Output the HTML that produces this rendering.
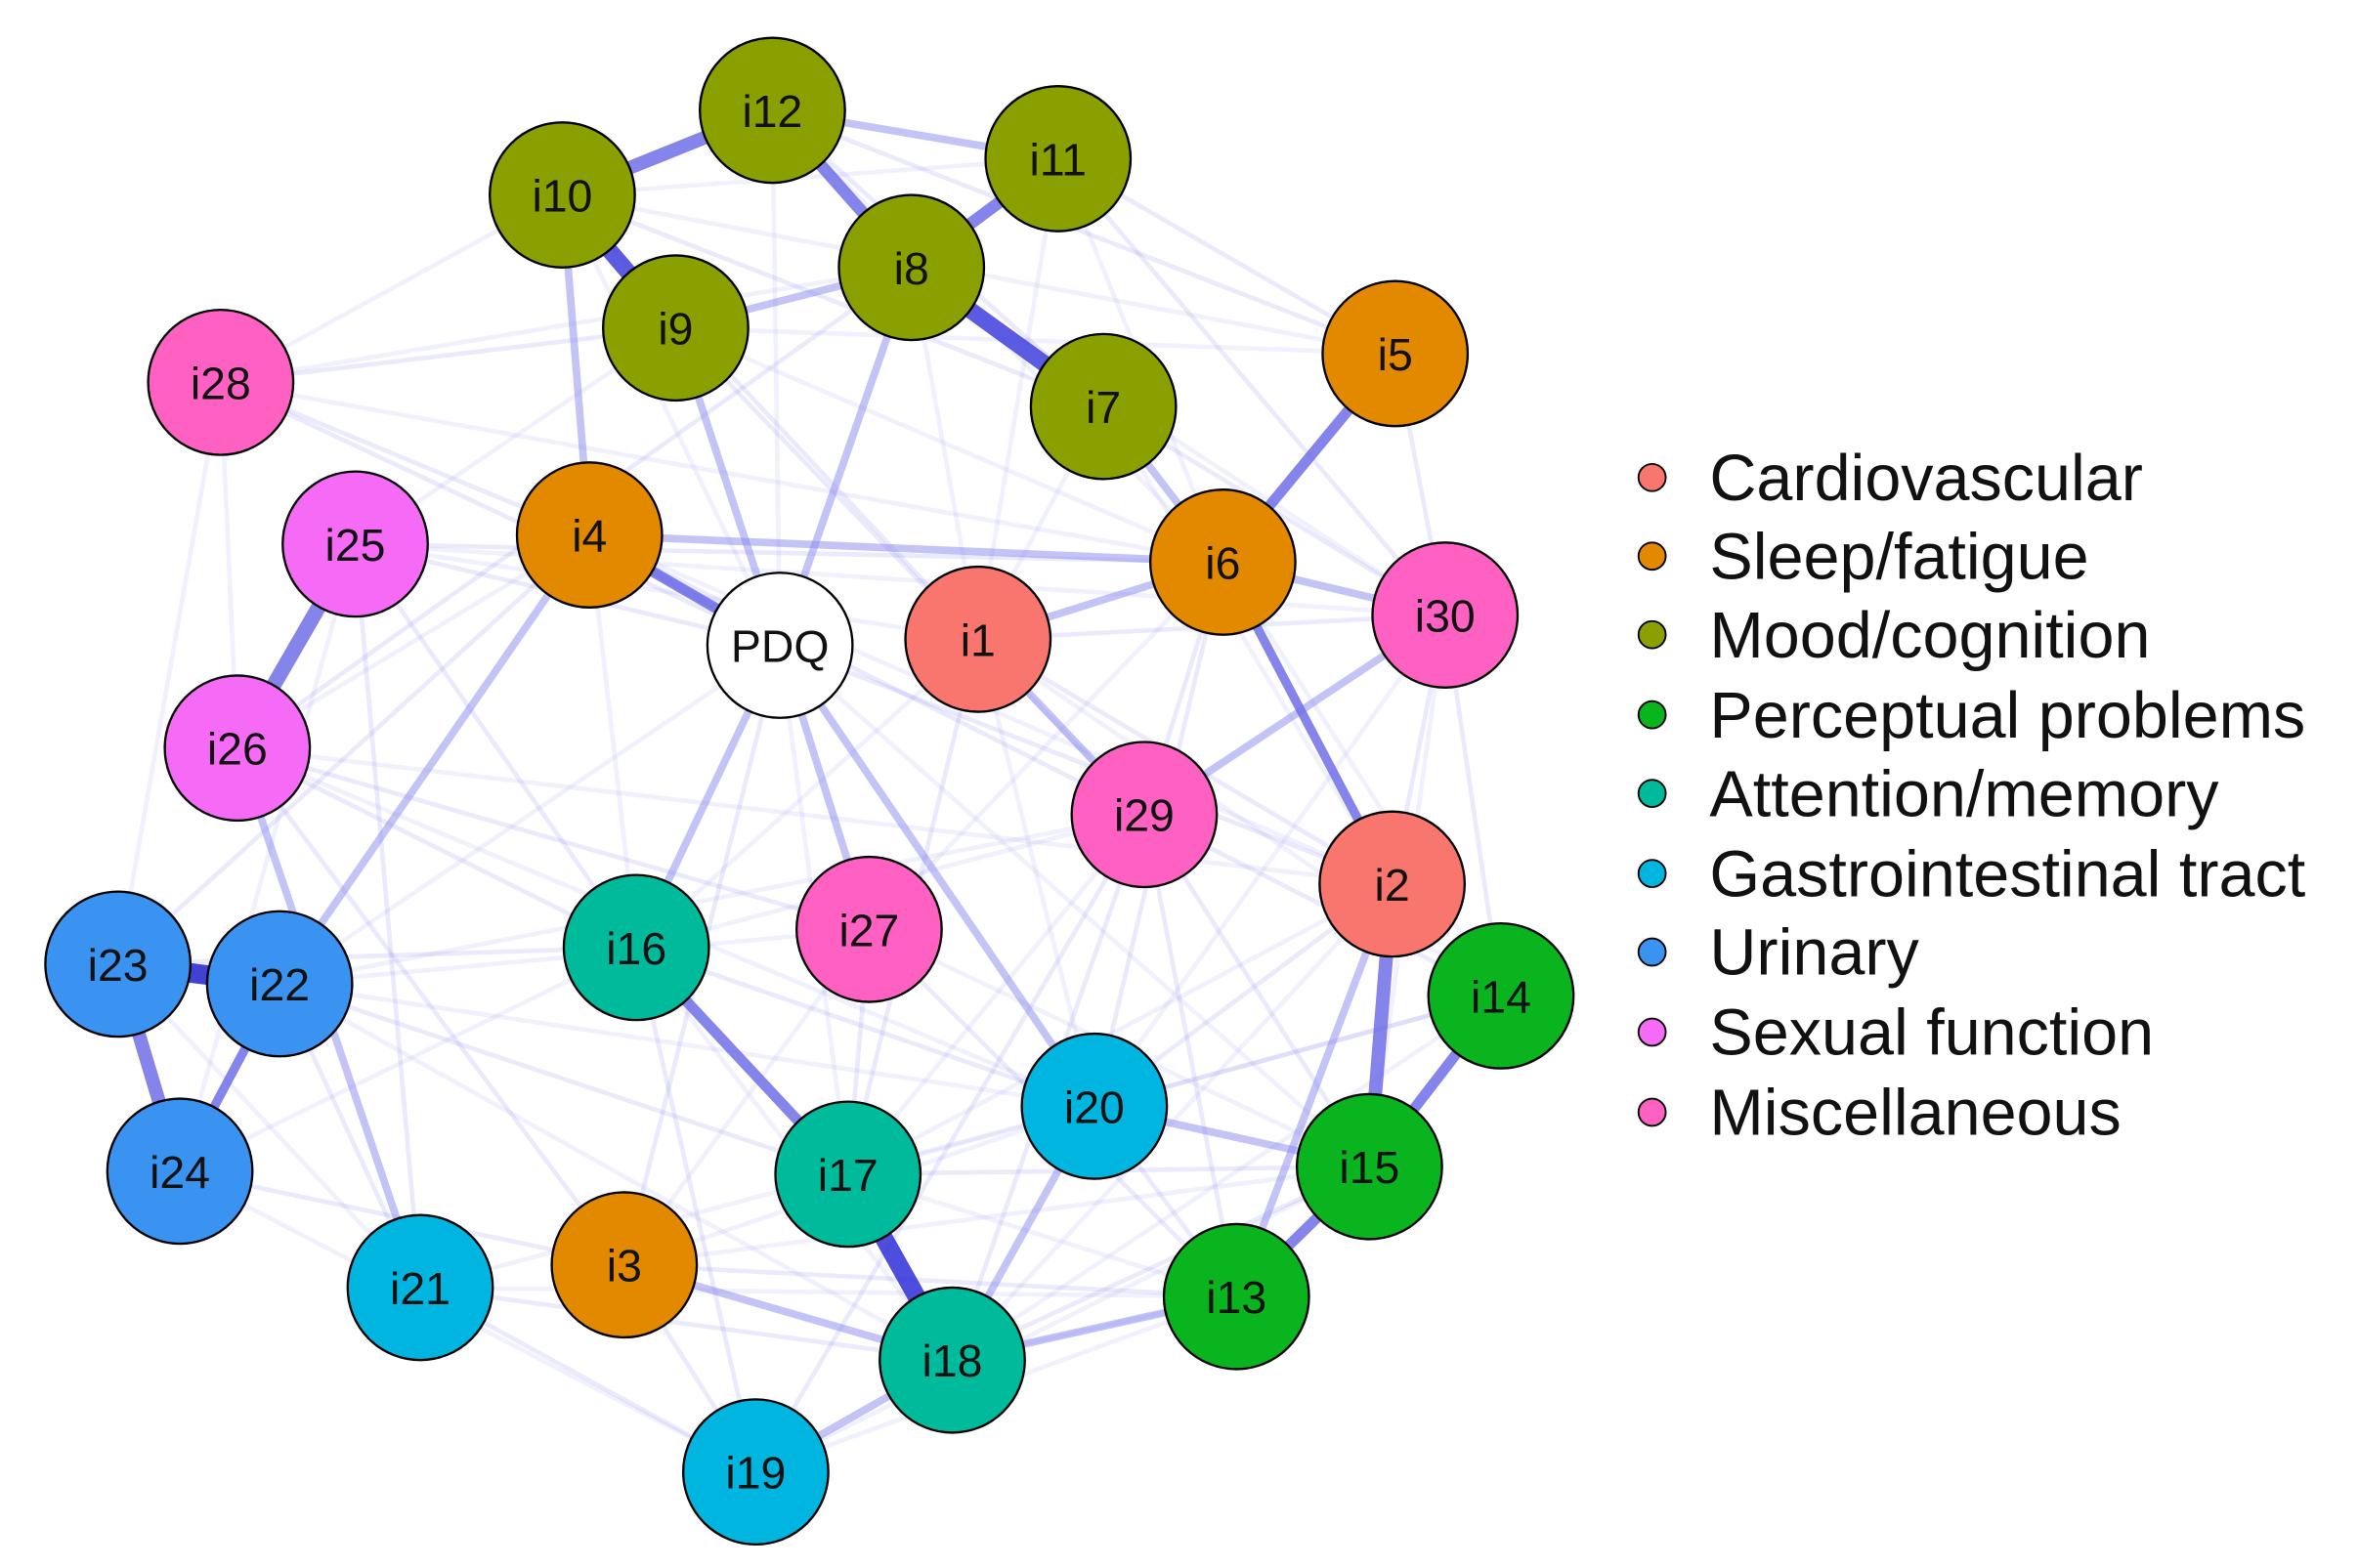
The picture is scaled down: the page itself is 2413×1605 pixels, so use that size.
<!DOCTYPE html>
<html><head><style>html,body{margin:0;padding:0;background:#fff}svg{display:block}</style></head>
<body>
<svg width="2413" height="1605" viewBox="0 0 1560 1037.6" preserveAspectRatio="none" xmlns="http://www.w3.org/2000/svg" font-family="Liberation Sans, sans-serif">
<g stroke-linecap="round" fill="none">
<g stroke="#8888ee" stroke-opacity="0.12" stroke-width="3">
<line x1="146" y1="253" x2="603" y2="177"/><line x1="146" y1="253" x2="372" y2="129"/><line x1="146" y1="253" x2="157" y2="495"/>
<line x1="146" y1="253" x2="78" y2="638"/><line x1="235" y1="360" x2="119" y2="775"/><line x1="235" y1="360" x2="447" y2="217"/>
<line x1="235" y1="360" x2="647" y2="423"/><line x1="157" y1="495" x2="724" y2="732"/><line x1="157" y1="495" x2="921" y2="585"/>
<line x1="372" y1="129" x2="700" y2="105"/><line x1="372" y1="129" x2="923" y2="234"/><line x1="372" y1="129" x2="516" y2="427"/>
<line x1="511" y1="73" x2="516" y2="427"/><line x1="511" y1="73" x2="809" y2="372"/><line x1="700" y1="105" x2="809" y2="372"/>
<line x1="700" y1="105" x2="647" y2="423"/><line x1="447" y1="217" x2="809" y2="372"/><line x1="447" y1="217" x2="923" y2="234"/>
<line x1="603" y1="177" x2="956" y2="407"/><line x1="603" y1="177" x2="647" y2="423"/><line x1="730" y1="269" x2="647" y2="423"/>
<line x1="730" y1="269" x2="921" y2="585"/><line x1="390" y1="354" x2="421" y2="627"/><line x1="390" y1="354" x2="157" y2="495"/>
<line x1="516" y1="427" x2="185" y2="651"/><line x1="516" y1="427" x2="561" y2="777"/><line x1="516" y1="427" x2="906" y2="772"/>
<line x1="647" y1="423" x2="724" y2="732"/><line x1="647" y1="423" x2="421" y2="627"/><line x1="647" y1="423" x2="993" y2="659"/>
<line x1="809" y1="372" x2="993" y2="659"/><line x1="809" y1="372" x2="575" y2="615"/><line x1="956" y1="407" x2="724" y2="732"/>
<line x1="956" y1="407" x2="906" y2="772"/><line x1="921" y1="585" x2="630" y2="900"/><line x1="921" y1="585" x2="561" y2="777"/>
<line x1="993" y1="659" x2="630" y2="900"/><line x1="993" y1="659" x2="561" y2="777"/><line x1="906" y1="772" x2="500" y2="974"/>
<line x1="818" y1="858" x2="500" y2="974"/><line x1="818" y1="858" x2="561" y2="777"/><line x1="724" y1="732" x2="413" y2="837"/>
<line x1="724" y1="732" x2="278" y2="852"/><line x1="575" y1="615" x2="185" y2="651"/><line x1="575" y1="615" x2="413" y2="837"/>
<line x1="421" y1="627" x2="630" y2="900"/><line x1="421" y1="627" x2="119" y2="775"/><line x1="78" y1="638" x2="278" y2="852"/>
<line x1="119" y1="775" x2="500" y2="974"/><line x1="185" y1="651" x2="630" y2="900"/><line x1="185" y1="651" x2="724" y2="732"/>
<line x1="278" y1="852" x2="818" y2="858"/><line x1="413" y1="837" x2="906" y2="772"/><line x1="757" y1="539" x2="561" y2="777"/>
<line x1="757" y1="539" x2="421" y2="627"/><line x1="757" y1="539" x2="185" y2="651"/><line x1="575" y1="615" x2="906" y2="772"/>
<line x1="146" y1="253" x2="809" y2="372"/><line x1="235" y1="360" x2="956" y2="407"/><line x1="390" y1="354" x2="921" y2="585"/>
</g>
<g stroke="#8888ee" stroke-opacity="0.18" stroke-width="3">
<line x1="146" y1="253" x2="390" y2="354"/><line x1="146" y1="253" x2="516" y2="427"/><line x1="146" y1="253" x2="447" y2="217"/>
<line x1="235" y1="360" x2="516" y2="427"/><line x1="235" y1="360" x2="809" y2="372"/><line x1="235" y1="360" x2="421" y2="627"/>
<line x1="157" y1="495" x2="421" y2="627"/><line x1="157" y1="495" x2="413" y2="837"/><line x1="157" y1="495" x2="575" y2="615"/>
<line x1="372" y1="129" x2="730" y2="269"/><line x1="372" y1="129" x2="647" y2="423"/><line x1="511" y1="73" x2="730" y2="269"/>
<line x1="511" y1="73" x2="923" y2="234"/><line x1="700" y1="105" x2="923" y2="234"/><line x1="700" y1="105" x2="956" y2="407"/>
<line x1="923" y1="234" x2="956" y2="407"/><line x1="956" y1="407" x2="993" y2="659"/><line x1="956" y1="407" x2="921" y2="585"/>
<line x1="757" y1="539" x2="906" y2="772"/><line x1="757" y1="539" x2="500" y2="974"/><line x1="757" y1="539" x2="818" y2="858"/>
<line x1="575" y1="615" x2="818" y2="858"/><line x1="575" y1="615" x2="561" y2="777"/><line x1="421" y1="627" x2="724" y2="732"/>
<line x1="278" y1="852" x2="630" y2="900"/><line x1="278" y1="852" x2="500" y2="974"/><line x1="278" y1="852" x2="185" y2="651"/>
<line x1="413" y1="837" x2="818" y2="858"/><line x1="413" y1="837" x2="500" y2="974"/><line x1="119" y1="775" x2="413" y2="837"/>
<line x1="724" y1="732" x2="993" y2="659"/><line x1="724" y1="732" x2="818" y2="858"/><line x1="724" y1="732" x2="921" y2="585"/>
<line x1="630" y1="900" x2="818" y2="858"/><line x1="630" y1="900" x2="906" y2="772"/><line x1="561" y1="777" x2="906" y2="772"/>
<line x1="647" y1="423" x2="956" y2="407"/><line x1="647" y1="423" x2="921" y2="585"/><line x1="647" y1="423" x2="561" y2="777"/>
<line x1="390" y1="354" x2="757" y2="539"/><line x1="390" y1="354" x2="78" y2="638"/><line x1="447" y1="217" x2="757" y2="539"/>
<line x1="603" y1="177" x2="157" y2="495"/><line x1="516" y1="427" x2="413" y2="837"/><line x1="516" y1="427" x2="921" y2="585"/>
<line x1="185" y1="651" x2="561" y2="777"/><line x1="78" y1="638" x2="421" y2="627"/><line x1="235" y1="360" x2="278" y2="852"/>
<line x1="809" y1="372" x2="724" y2="732"/><line x1="809" y1="372" x2="757" y2="539"/><line x1="730" y1="269" x2="956" y2="407"/>
<line x1="500" y1="974" x2="421" y2="627"/><line x1="630" y1="900" x2="757" y2="539"/><line x1="993" y1="659" x2="757" y2="539"/>
</g>
<g stroke="#8888ee" stroke-opacity="0.5" stroke-width="5">
<line x1="372" y1="129" x2="390" y2="354"/><line x1="390" y1="354" x2="516" y2="427"/><line x1="390" y1="354" x2="809" y2="372"/>
<line x1="516" y1="427" x2="603" y2="177"/><line x1="516" y1="427" x2="421" y2="627"/><line x1="516" y1="427" x2="575" y2="615"/>
<line x1="516" y1="427" x2="724" y2="732"/><line x1="516" y1="427" x2="447" y2="217"/><line x1="647" y1="423" x2="809" y2="372"/>
<line x1="647" y1="423" x2="757" y2="539"/><line x1="809" y1="372" x2="956" y2="407"/><line x1="809" y1="372" x2="730" y2="269"/>
<line x1="390" y1="354" x2="185" y2="651"/><line x1="413" y1="837" x2="630" y2="900"/><line x1="630" y1="900" x2="500" y2="974"/>
<line x1="630" y1="900" x2="724" y2="732"/><line x1="724" y1="732" x2="906" y2="772"/><line x1="921" y1="585" x2="818" y2="858"/>
<line x1="278" y1="852" x2="157" y2="495"/><line x1="511" y1="73" x2="700" y2="105"/><line x1="447" y1="217" x2="603" y2="177"/>
<line x1="956" y1="407" x2="757" y2="539"/><line x1="818" y1="858" x2="630" y2="900"/>
</g>
<g stroke="#6f6fe8" stroke-opacity="0.85">
<line x1="372" y1="129" x2="511" y2="73" stroke-width="9"/>
<line x1="372" y1="129" x2="447" y2="217" stroke-width="11" stroke="#4040dd"/>
<line x1="511" y1="73" x2="603" y2="177" stroke-width="8"/>
<line x1="603" y1="177" x2="730" y2="269" stroke-width="11" stroke="#4040dd"/>
<line x1="700" y1="105" x2="603" y2="177" stroke-width="8"/>
<line x1="78" y1="638" x2="185" y2="651" stroke-width="13" stroke="#2020cc"/>
<line x1="78" y1="638" x2="119" y2="775" stroke-width="9"/>
<line x1="185" y1="651" x2="119" y2="775" stroke-width="6"/>
<line x1="235" y1="360" x2="157" y2="495" stroke-width="10"/>
<line x1="923" y1="234" x2="809" y2="372" stroke-width="7"/>
<line x1="809" y1="372" x2="921" y2="585" stroke-width="6"/>
<line x1="921" y1="585" x2="906" y2="772" stroke-width="9"/>
<line x1="906" y1="772" x2="993" y2="659" stroke-width="7"/>
<line x1="906" y1="772" x2="818" y2="858" stroke-width="7"/>
<line x1="561" y1="777" x2="630" y2="900" stroke-width="12" stroke="#2e2ed8"/>
<line x1="421" y1="627" x2="561" y2="777" stroke-width="7"/>
<line x1="390" y1="354" x2="516" y2="427" stroke-width="7"/>
</g>
</g>
<g stroke="#000" stroke-width="1.5">
<circle cx="511" cy="73" r="48" fill="#8AA000"/><circle cx="700" cy="105" r="48" fill="#8AA000"/>
<circle cx="372" cy="129" r="48" fill="#8AA000"/><circle cx="603" cy="177" r="48" fill="#8AA000"/>
<circle cx="447" cy="217" r="48" fill="#8AA000"/><circle cx="730" cy="269" r="48" fill="#8AA000"/>
<circle cx="923" cy="234" r="48" fill="#E38900"/><circle cx="146" cy="253" r="48" fill="#FF61C3"/>
<circle cx="235" cy="360" r="48" fill="#F56BF5"/><circle cx="390" cy="354" r="48" fill="#E38900"/>
<circle cx="516" cy="427" r="48" fill="#fff"/><circle cx="647" cy="423" r="48" fill="#F8766D"/>
<circle cx="809" cy="372" r="48" fill="#E38900"/><circle cx="956" cy="407" r="48" fill="#FF61C3"/>
<circle cx="157" cy="495" r="48" fill="#F56BF5"/><circle cx="757" cy="539" r="48" fill="#FF61C3"/>
<circle cx="575" cy="615" r="48" fill="#FF61C3"/><circle cx="421" cy="627" r="48" fill="#00BA9C"/>
<circle cx="78" cy="638" r="48" fill="#3A93F0"/><circle cx="185" cy="651" r="48" fill="#3A93F0"/>
<circle cx="993" cy="659" r="48" fill="#0AB41F"/><circle cx="921" cy="585" r="48" fill="#F8766D"/>
<circle cx="724" cy="732" r="48" fill="#00B6E0"/><circle cx="561" cy="777" r="48" fill="#00BA9C"/>
<circle cx="906" cy="772" r="48" fill="#0AB41F"/><circle cx="119" cy="775" r="48" fill="#3A93F0"/>
<circle cx="278" cy="852" r="48" fill="#00B6E0"/><circle cx="413" cy="837" r="48" fill="#E38900"/>
<circle cx="818" cy="858" r="48" fill="#0AB41F"/><circle cx="630" cy="900" r="48" fill="#00BA9C"/>
<circle cx="500" cy="974" r="48" fill="#00B6E0"/>
</g>
<g font-size="30" text-anchor="middle" fill="#111">
<text x="511" y="84">i12</text><text x="700" y="116">i11</text><text x="372" y="140">i10</text><text x="603" y="188">i8</text>
<text x="447" y="228">i9</text><text x="730" y="280">i7</text><text x="923" y="245">i5</text><text x="146" y="264">i28</text>
<text x="235" y="371">i25</text><text x="390" y="365">i4</text><text x="516" y="438">PDQ</text><text x="647" y="434">i1</text>
<text x="809" y="383">i6</text><text x="956" y="418">i30</text><text x="157" y="506">i26</text><text x="757" y="550">i29</text>
<text x="575" y="626">i27</text><text x="421" y="638">i16</text><text x="78" y="649">i23</text><text x="185" y="662">i22</text>
<text x="993" y="670">i14</text><text x="921" y="596">i2</text><text x="724" y="743">i20</text><text x="561" y="788">i17</text>
<text x="906" y="783">i15</text><text x="119" y="786">i24</text><text x="278" y="863">i21</text><text x="413" y="848">i3</text>
<text x="818" y="869">i13</text><text x="630" y="911">i18</text><text x="500" y="985">i19</text>
</g>
<g stroke="#000" stroke-width="1.2">
<circle cx="1093" cy="316" r="9" fill="#F8766D"/><circle cx="1093" cy="368" r="9" fill="#E38900"/>
<circle cx="1093" cy="420" r="9" fill="#8AA000"/><circle cx="1093" cy="473" r="9" fill="#0AB41F"/>
<circle cx="1093" cy="525" r="9" fill="#00BA9C"/><circle cx="1093" cy="578" r="9" fill="#00B6E0"/>
<circle cx="1093" cy="630" r="9" fill="#3A93F0"/><circle cx="1093" cy="683" r="9" fill="#F56BF5"/>
<circle cx="1093" cy="736" r="9" fill="#FF61C3"/>
</g>
<g font-size="43" fill="#111">
<text x="1131" y="331">Cardiovascular</text><text x="1131" y="383">Sleep/fatigue</text>
<text x="1131" y="435">Mood/cognition</text><text x="1131" y="488">Perceptual problems</text>
<text x="1131" y="540">Attention/memory</text><text x="1131" y="593">Gastrointestinal tract</text>
<text x="1131" y="645">Urinary</text><text x="1131" y="698">Sexual function</text>
<text x="1131" y="751">Miscellaneous</text>
</g>
</svg>
</body></html>
